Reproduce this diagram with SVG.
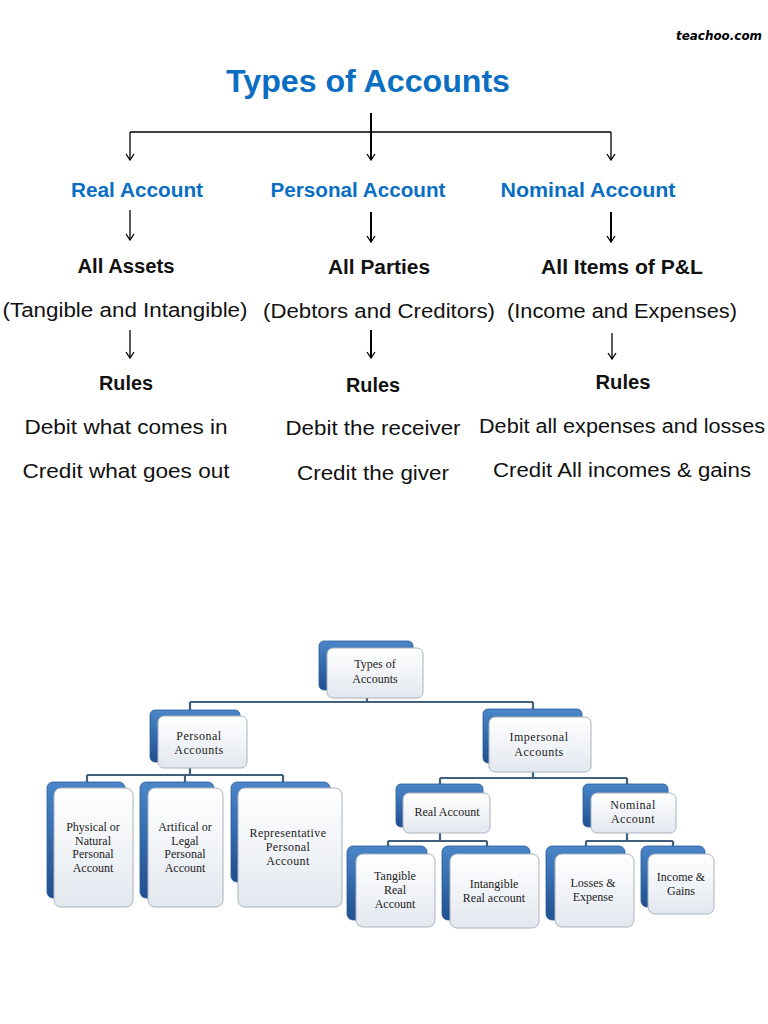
<svg xmlns="http://www.w3.org/2000/svg" width="768" height="1024" viewBox="0 0 768 1024">
<defs>
<marker id="ah" viewBox="0 0 10 10" refX="9" refY="5" markerWidth="10" markerHeight="10" markerUnits="userSpaceOnUse" orient="auto">
<path d="M3,1 L9,5 L3,9" fill="none" stroke="#000" stroke-width="1.3"/>
</marker>
<linearGradient id="gBack" x1="0" y1="0" x2="0" y2="1">
<stop offset="0" stop-color="#4a86c8"/>
<stop offset="1" stop-color="#1f4f8f"/>
</linearGradient>
<linearGradient id="gFront" x1="0" y1="0" x2="0" y2="1">
<stop offset="0" stop-color="#ffffff"/>
<stop offset="1" stop-color="#e3e8ef"/>
</linearGradient>
</defs>
<style>
.blue{font-family:"Liberation Sans",Arial,sans-serif;font-weight:bold;fill:#0a6fc2;text-anchor:middle}
.bold{font-family:"Liberation Sans",Arial,sans-serif;font-weight:bold;fill:#111;text-anchor:middle;font-size:20px}
.reg{font-family:"Liberation Sans",Arial,sans-serif;fill:#111;text-anchor:middle;font-size:20px}
.ser{font-family:"Liberation Serif","Times New Roman",serif;fill:#222;text-anchor:middle;font-size:12px}
.back{fill:url(#gBack);stroke:#2a5a98;stroke-width:0.8}
.front{fill:url(#gFront);stroke:#a9b2bd;stroke-width:1}
.arr{stroke:#000;stroke-width:1.3;fill:none}
.arrT{stroke:#000;stroke-width:2;fill:none}
.tl{stroke:#40607e;stroke-width:2.2;fill:none}
</style>
<rect width="768" height="1024" fill="#fff"/>

<text x="719" y="40" font-family="'DejaVu Sans',sans-serif" font-style="italic" font-weight="bold" font-size="13" text-anchor="middle" textLength="86" lengthAdjust="spacingAndGlyphs" fill="#000">teachoo.com</text>

<g id="title"><text class="blue" x="368" y="92" font-size="32" textLength="284" lengthAdjust="spacingAndGlyphs">Types of Accounts</text></g>

<g id="connectors-top">
<path class="arrT" d="M371,113 V160" marker-end="url(#ah)"/>
<path class="arr" d="M130,132 H611"/>
<path class="arr" d="M130,132 V160" marker-end="url(#ah)"/>
<path class="arr" d="M611,132 V160" marker-end="url(#ah)"/>
<path class="arr" d="M130,210 V240" marker-end="url(#ah)"/>
<path class="arrT" d="M371,212 V242" marker-end="url(#ah)"/>
<path class="arrT" d="M611,212 V242" marker-end="url(#ah)"/>
<path class="arr" d="M130,330 V358" marker-end="url(#ah)"/>
<path class="arrT" d="M371,330 V358" marker-end="url(#ah)"/>
<path class="arr" d="M612,333 V359" marker-end="url(#ah)"/>
</g>

<g id="real-col">
<text class="blue" x="137" y="197" font-size="20" textLength="132" lengthAdjust="spacingAndGlyphs">Real Account</text>
<text class="bold" x="126" y="273" textLength="97" lengthAdjust="spacingAndGlyphs">All Assets</text>
<text class="reg" x="125" y="317" textLength="245" lengthAdjust="spacingAndGlyphs">(Tangible and Intangible)</text>
<text class="bold" x="126" y="390" textLength="54" lengthAdjust="spacingAndGlyphs">Rules</text>
<text class="reg" x="126" y="434" textLength="203" lengthAdjust="spacingAndGlyphs">Debit what comes in</text>
<text class="reg" x="126" y="478" textLength="207" lengthAdjust="spacingAndGlyphs">Credit what goes out</text>
</g>
<g id="personal-col">
<text class="blue" x="358" y="197" font-size="20" textLength="175" lengthAdjust="spacingAndGlyphs">Personal Account</text>
<text class="bold" x="379" y="274" textLength="102" lengthAdjust="spacingAndGlyphs">All Parties</text>
<text class="reg" x="379" y="318" textLength="232" lengthAdjust="spacingAndGlyphs">(Debtors and Creditors)</text>
<text class="bold" x="373" y="392" textLength="54" lengthAdjust="spacingAndGlyphs">Rules</text>
<text class="reg" x="373" y="435" textLength="175" lengthAdjust="spacingAndGlyphs">Debit the receiver</text>
<text class="reg" x="373" y="480" textLength="152" lengthAdjust="spacingAndGlyphs">Credit the giver</text>
</g>
<g id="nominal-col">
<text class="blue" x="588" y="197" font-size="20" textLength="175" lengthAdjust="spacingAndGlyphs">Nominal Account</text>
<text class="bold" x="622" y="274" textLength="162" lengthAdjust="spacingAndGlyphs">All Items of P&amp;L</text>
<text class="reg" x="622" y="318" textLength="230" lengthAdjust="spacingAndGlyphs">(Income and Expenses)</text>
<text class="bold" x="623" y="389" textLength="55" lengthAdjust="spacingAndGlyphs">Rules</text>
<text class="reg" x="622" y="433" textLength="286" lengthAdjust="spacingAndGlyphs">Debit all expenses and losses</text>
<text class="reg" x="622" y="477" textLength="258" lengthAdjust="spacingAndGlyphs">Credit All incomes &amp; gains</text>
</g>

<g id="connectors-bottom">
<path class="tl" d="M367,698 V702 M190,702 H533 M190,702 V710 M533,702 V709"/>
<path class="tl" d="M190,768 V775 M87,775 H283 M87,775 V782 M185,775 V782 M283,775 V782"/>
<path class="tl" d="M533,772 V778 M440,778 H627 M440,778 V784 M627,778 V784"/>
<path class="tl" d="M440,833 V841 M388,841 H487 M388,841 V846 M487,841 V846"/>
<path class="tl" d="M627,833 V841 M586,841 H673 M586,841 V846 M673,841 V846"/>
</g>

<g id="n-types">
<rect class="back" x="319" y="641" width="94" height="49" rx="5"/>
<rect class="front" x="327" y="648" width="96" height="50" rx="6"/>
<text class="ser" x="375" y="668">Types of</text>
<text class="ser" x="375" y="683">Accounts</text>
</g>
<g id="n-personal">
<rect class="back" x="150" y="710" width="90" height="52" rx="5"/>
<rect class="front" x="158" y="716" width="89" height="52" rx="6"/>
<text class="ser" x="199" y="740" letter-spacing="0.5">Personal</text>
<text class="ser" x="199" y="754" letter-spacing="0.5">Accounts</text>
</g>
<g id="n-impersonal">
<rect class="back" x="483" y="709" width="99" height="54" rx="5"/>
<rect class="front" x="489" y="717" width="102" height="55" rx="6"/>
<text class="ser" x="539" y="741" letter-spacing="0.5">Impersonal</text>
<text class="ser" x="539" y="756" letter-spacing="0.5">Accounts</text>
</g>
<g id="n-physical">
<rect class="back" x="47" y="782" width="78" height="116" rx="6"/>
<rect class="front" x="54" y="788" width="79" height="119" rx="7"/>
<text class="ser" x="93" y="831">Physical or</text>
<text class="ser" x="93" y="845">Natural</text>
<text class="ser" x="93" y="858">Personal</text>
<text class="ser" x="93" y="872">Account</text>
</g>
<g id="n-artifical">
<rect class="back" x="140" y="782" width="74" height="116" rx="6"/>
<rect class="front" x="148" y="788" width="75" height="119" rx="7"/>
<text class="ser" x="185" y="831">Artifical or</text>
<text class="ser" x="185" y="845">Legal</text>
<text class="ser" x="185" y="858">Personal</text>
<text class="ser" x="185" y="872">Account</text>
</g>
<g id="n-representative">
<rect class="back" x="231" y="782" width="99" height="100" rx="6"/>
<rect class="front" x="238" y="788" width="104" height="119" rx="7"/>
<text class="ser" x="288" y="837" letter-spacing="0.4">Representative</text>
<text class="ser" x="288" y="851" letter-spacing="0.4">Personal</text>
<text class="ser" x="288" y="865" letter-spacing="0.4">Account</text>
</g>
<g id="n-real">
<rect class="back" x="396" y="784" width="87" height="43" rx="5"/>
<rect class="front" x="403" y="793" width="87" height="40" rx="6"/>
<text class="ser" x="447" y="816">Real Account</text>
</g>
<g id="n-nominal">
<rect class="back" x="583" y="784" width="85" height="43" rx="5"/>
<rect class="front" x="591" y="793" width="85" height="40" rx="6"/>
<text class="ser" x="633" y="809" letter-spacing="0.5">Nominal</text>
<text class="ser" x="633" y="823" letter-spacing="0.5">Account</text>
</g>
<g id="n-tangible">
<rect class="back" x="347" y="846" width="80" height="74" rx="6"/>
<rect class="front" x="356" y="854" width="79" height="73" rx="7"/>
<text class="ser" x="395" y="880">Tangible</text>
<text class="ser" x="395" y="894">Real</text>
<text class="ser" x="395" y="908">Account</text>
</g>
<g id="n-intangible">
<rect class="back" x="442" y="846" width="88" height="74" rx="6"/>
<rect class="front" x="450" y="854" width="89" height="74" rx="7"/>
<text class="ser" x="494" y="888">Intangible</text>
<text class="ser" x="494" y="902">Real account</text>
</g>
<g id="n-losses">
<rect class="back" x="546" y="846" width="79" height="74" rx="6"/>
<rect class="front" x="555" y="854" width="79" height="73" rx="7"/>
<text class="ser" x="593" y="887">Losses &amp;</text>
<text class="ser" x="593" y="901">Expense</text>
</g>
<g id="n-income">
<rect class="back" x="641" y="846" width="64" height="61" rx="6"/>
<rect class="front" x="648" y="854" width="66" height="60" rx="7"/>
<text class="ser" x="681" y="881">Income &amp;</text>
<text class="ser" x="681" y="895">Gains</text>
</g>
</svg>
